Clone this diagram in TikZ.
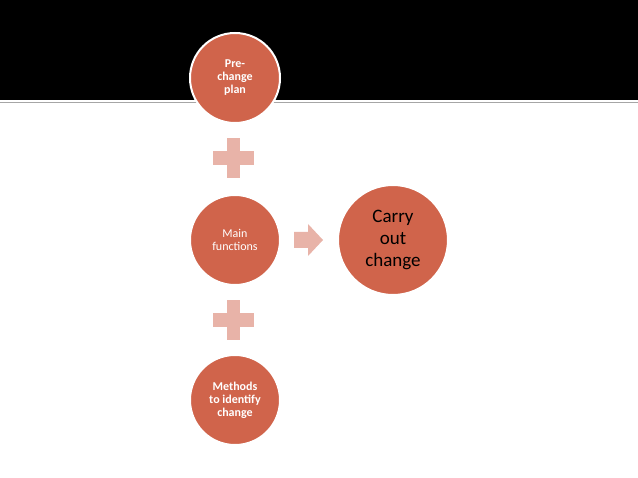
\documentclass[tikz,border=0pt]{standalone}
\usepackage{fontspec}
\setmainfont{Carlito}
\definecolor{circ}{HTML}{D0644B}
\definecolor{pale}{HTML}{E8B3A8}
\begin{document}
\begin{tikzpicture}[x=1pt,y=-1pt,
  bub/.style={circle,fill=circ,draw=white,line width=2pt,minimum size=90pt,inner sep=0pt,align=center,text=white,font=\bfseries\fontsize{12}{13}\selectfont},
  plus/.style={fill=pale}]
\useasboundingbox (0,0) rectangle (638,478);
\fill[black] (0,0) rectangle (638,100);
\draw[gray!70,line width=1pt] (0,103) -- (638,103);
\node[bub] (a) at (235,78) {Pre-\\change\\plan};
\node[bub,font=\fontsize{12}{13}\selectfont] (b) at (235,240) {Main\\functions};
\node[bub] (c) at (235,400) {Methods\\to identify\\change};
\node[bub,minimum size=110pt,text=black,font=\fontsize{19}{22}\selectfont] (d) at (393,240) {Carry\\out\\change};
\fill[plus] (227,138) rectangle (240,178);
\fill[plus] (213,151) rectangle (254,165);
\fill[plus] (227,300) rectangle (240,340);
\fill[plus] (213,313) rectangle (254,327);
\fill[plus] (294,232) -- (308,232) -- (308,224) -- (323,240) -- (308,256) -- (308,248) -- (294,248) -- cycle;
\end{tikzpicture}
\end{document}
